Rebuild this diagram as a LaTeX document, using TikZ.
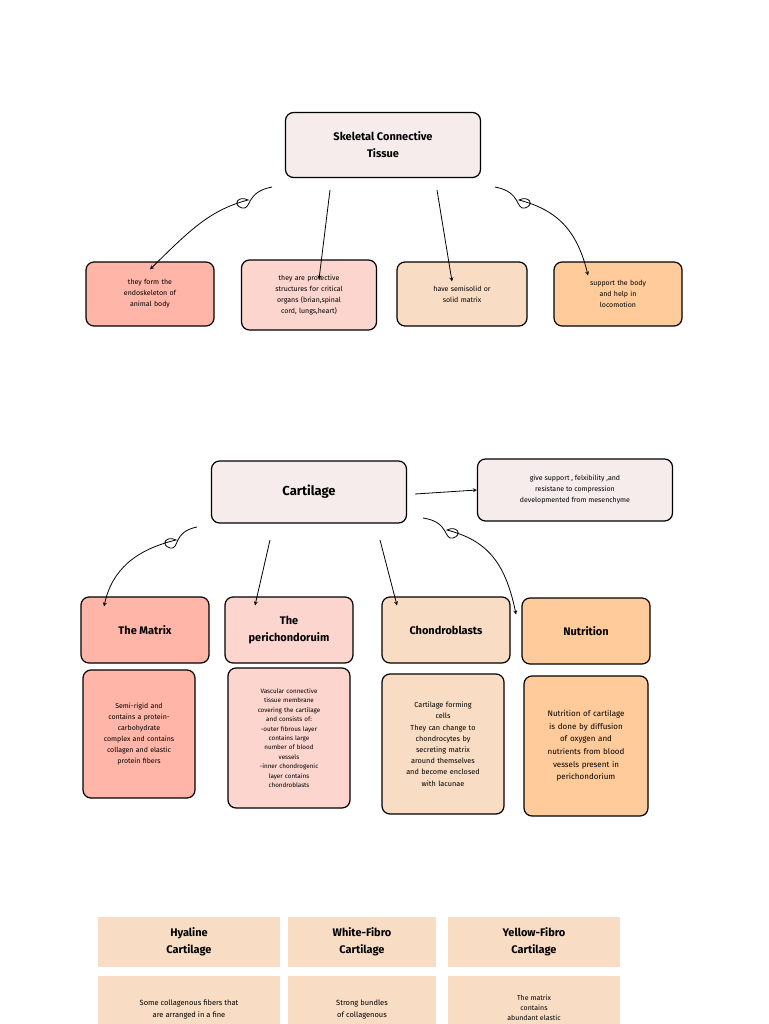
\documentclass[tikz,border=0pt]{standalone}
\usepackage{fontspec}
\setmainfont{Fira Sans}
\usetikzlibrary{arrows,shapes,positioning,calc}
\definecolor{cream}{HTML}{F7ECEC}
\definecolor{salmon}{HTML}{FFB5A7}
\definecolor{blush}{HTML}{FCD5CE}
\definecolor{almond}{HTML}{F8DCC4}
\definecolor{apricot}{HTML}{FFCB9A}
\begin{document}
\begin{tikzpicture}[x=1pt,y=-1pt,>=stealth,
box/.style={
draw=black,
rounded corners=8pt,
line width=1.2pt,
align=center,
inner sep=2pt,
font=\fontsize{7}{11}\selectfont,
},
head/.style={
box,
font=\fontsize{11}{17}\selectfont\bfseries,
},
plain/.style={
fill=almond,
align=center,
inner sep=0pt,
},
link/.style={->,thick}
]
\useasboundingbox (0,0) rectangle (768,1024);
\clip (0,0) rectangle (768,1024);
% skeletal connective tissue
\node [head,fill=cream,minimum width=195pt,minimum height=65pt] (skeletal) at (383,145) {Skeletal Connective\\Tissue};
\node [box,fill=salmon,minimum width=128pt,minimum height=64pt,text width=110pt] (endo) at (150,294) {they form the\\endoskeleton of\\animal body};
\node [box,fill=blush,minimum width=135pt,minimum height=70pt,text width=125pt] (protect) at (309,295) {they are protective\\structures for critical\\organs (brian,spinal\\cord, lungs,heart)};
\node [box,fill=almond,minimum width=130pt,minimum height=64pt,text width=115pt] (semisolid) at (462,294) {have semisolid or\\solid matrix};
\node [box,fill=apricot,minimum width=128pt,minimum height=64pt,text width=115pt] (support) at (618,294) {support the body\\and help in\\locomotion};
\coordinate (s1) at (272,187);
\coordinate (s2) at (330,190);
\coordinate (s3) at (437,190);
\coordinate (s4) at (495,187);
\draw[link] (s1) .. controls (245,192) and (252,210) .. (242,208) .. controls (232,205) and (238,195) .. (248,200) .. controls (210,210) and (190,230) .. ([yshift=-8pt]endo.north);
\draw[link] (s2) -- ([xshift=10pt,yshift=-20pt]protect.north);
\draw[link] (s3) -- ([xshift=-10pt,yshift=-20pt]semisolid.north);
\draw[link] (s4) .. controls (522,192) and (515,210) .. (525,208) .. controls (535,205) and (529,195) .. (519,200) .. controls (557,210) and (577,230) .. ([xshift=-30pt,yshift=-14pt]support.north);
% cartilage
\node [head,fill=cream,minimum width=195pt,minimum height=62pt,font=\fontsize{13}{17}\selectfont\bfseries] (cartilage) at (309,492) {Cartilage};
\node [box,fill=cream,minimum width=195pt,minimum height=62pt] (role) at (575,490) {give support , felxibility ,and\\resistane to compression\\developmented from mesenchyme};
\draw[link] (cartilage.east) ++(8pt,-2pt) coordinate (c0) (c0) -- (role.west);
\node [head,fill=salmon,minimum width=128pt,minimum height=66pt] (matrix) at (145,630) {The Matrix};
\node [head,fill=blush,minimum width=128pt,minimum height=66pt] (peri) at (289,630) {The\\perichondoruim};
\node [head,fill=almond,minimum width=128pt,minimum height=66pt] (blasts) at (446,630) {Chondroblasts};
\node [head,fill=apricot,minimum width=128pt,minimum height=66pt] (nutrition) at (586,631) {Nutrition};
\node [box,fill=salmon,minimum width=112pt,minimum height=128pt,text width=104pt] (matrixtxt) at (139,734) {Semi-rigid and\\contains a protein-\\carbohydrate\\complex and contains\\collagen and elastic\\protein fibers};
\node [box,fill=blush,minimum width=122pt,minimum height=140pt,text width=114pt,font=\fontsize{6.3}{9.4}\selectfont] (peritxt) at (289,738) {Vascular connective\\tissue membrane\\covering the cartilage\\and consists of:\\-outer fibrous layer\\contains large\\number of blood\\vessels\\-inner chondrogenic\\layer contains\\chondroblasts};
\node [box,fill=almond,minimum width=122pt,minimum height=140pt,text width=114pt,font=\fontsize{7.3}{11.2}\selectfont] (blaststxt) at (443,744) {Cartilage forming\\cells\\They can change to\\chondrocytes by\\secreting matrix\\around themselves\\and become enclosed\\with lacunae};
\node [box,fill=apricot,minimum width=122pt,minimum height=140pt,text width=120pt,font=\fontsize{8}{12.6}\selectfont] (nutritiontxt) at (586,746) {Nutrition of cartilage\\is done by diffusion\\of oxygen and\\nutrients from blood\\vessels present in\\perichondorium};
\coordinate (c1) at (197,527);
\coordinate (c2) at (270,540);
\coordinate (c3) at (380,540);
\coordinate (c4) at (423,518);
\draw[link] (c1) .. controls (172,532) and (180,550) .. (170,548) .. controls (160,545) and (166,535) .. (176,540) .. controls (135,550) and (112,570) .. ([xshift=-41pt,yshift=-10pt]matrix.north);
\draw[link] (c2) -- ([xshift=-34pt,yshift=-9pt]peri.north);
\draw[link] (c3) -- ([xshift=-49pt,yshift=-9pt]blasts.north);
\draw[link] (c4) .. controls (450,522) and (443,540) .. (453,538) .. controls (463,535) and (457,525) .. (447,530) .. controls (485,540) and (505,560) .. ([xshift=-70pt,yshift=-17pt]nutrition.north);
% types of cartilage
\node [plain,minimum width=182pt,minimum height=50pt,font=\fontsize{11}{17}\selectfont\bfseries] (hyaline) at (189,942) {Hyaline\\Cartilage};
\node [plain,minimum width=148pt,minimum height=50pt,font=\fontsize{11}{17}\selectfont\bfseries] (white) at (362,942) {White-Fibro\\Cartilage};
\node [plain,minimum width=172pt,minimum height=50pt,font=\fontsize{11}{17}\selectfont\bfseries] (yellow) at (534,942) {Yellow-Fibro\\Cartilage};
\node [plain,minimum width=182pt,minimum height=80pt,anchor=north,font=\fontsize{7.5}{11.5}\selectfont] (hyalinetxt) at (189,976) {\rule{0pt}{14pt}Some collagenous fibers that\\are arranged in a fine\\\phantom{x}\\ \phantom{x}};
\node [plain,minimum width=148pt,minimum height=80pt,anchor=north,font=\fontsize{7.5}{11.5}\selectfont] (whitetxt) at (362,976) {\rule{0pt}{14pt}Strong bundles\\of collagenous\\\phantom{x}\\ \phantom{x}};
\node [plain,minimum width=172pt,minimum height=80pt,anchor=north,font=\fontsize{7}{10}\selectfont] (yellowtxt) at (534,976) {\rule{0pt}{8pt}The matrix\\contains\\abundant elastic\\\phantom{x}\\ \phantom{x}};
\end{tikzpicture}
\end{document}
